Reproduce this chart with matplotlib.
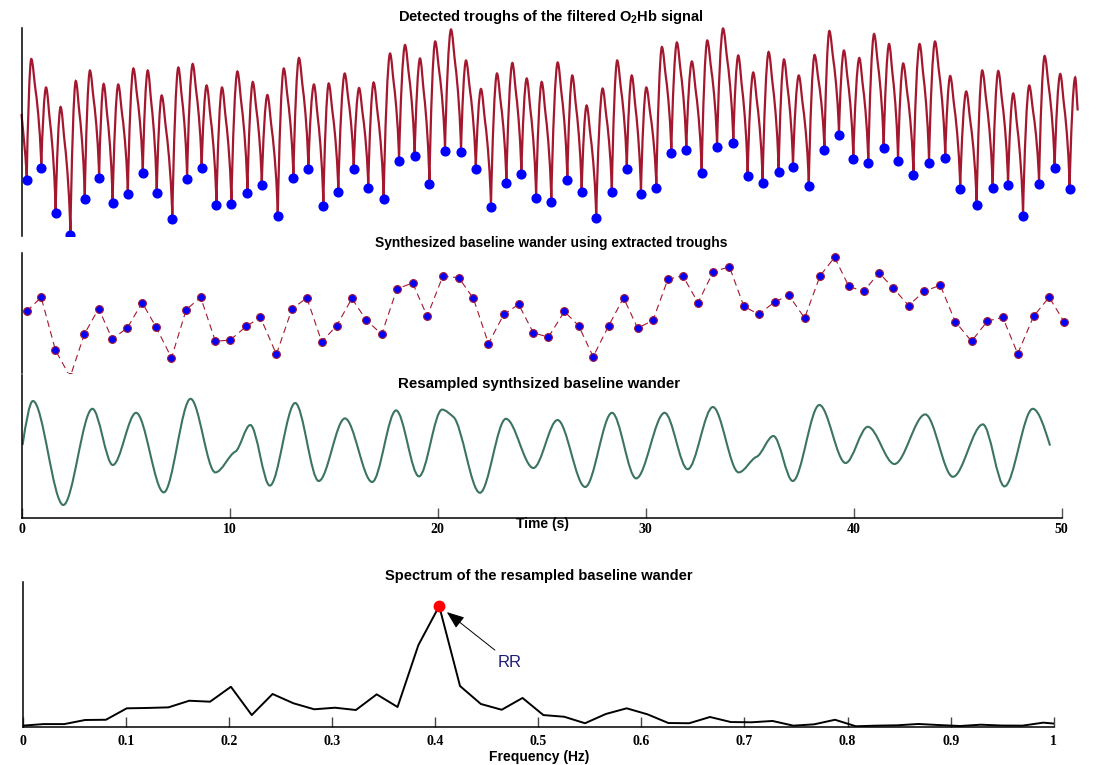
import matplotlib
matplotlib.use("Agg")
import matplotlib.pyplot as plt
from matplotlib.path import Path
from matplotlib.patches import PathPatch

W, H = 1096, 765

# -----------------------------
# DATA
# -----------------------------
# filtered O2Hb signal: beat troughs and peaks (time in s, arbitrary units)
trough_t = [0.25, 0.95, 1.64, 2.35, 3.04, 3.73, 4.38, 5.11, 5.83, 6.50,
            7.25, 7.96, 8.66, 9.37, 10.09, 10.86, 11.55, 12.32, 13.07, 13.79,
            14.51, 15.23, 15.97, 16.67, 17.41, 18.15, 18.90, 19.61, 20.36, 21.13,
            21.84, 22.57, 23.31, 24.03, 24.74, 25.47, 26.24, 26.93, 27.63, 28.38,
            29.10, 29.78, 30.52, 31.24, 31.96, 32.70, 33.44, 34.22, 34.91, 35.63,
            36.40, 37.09, 37.85, 38.60, 39.30, 39.99, 40.71, 41.45, 42.14, 42.88,
            43.63, 44.41, 45.13, 45.92, 46.69, 47.43, 48.15, 48.92, 49.67, 50.39]
trough_v = [-0.61, -0.37, -1.26, -1.71, -0.99, -0.56, -1.07, -0.89, -0.46, -0.87,
            -1.39, -0.58, -0.37, -1.11, -1.09, -0.86, -0.71, -1.33, -0.57, -0.38,
            -1.12, -0.85, -0.39, -0.76, -0.99, -0.23, -0.13, -0.69, -0.02, -0.04,
            -0.39, -1.15, -0.66, -0.49, -0.97, -1.04, -0.61, -0.85, -1.37, -0.85,
            -0.38, -0.89, -0.76, -0.07, -0.01, -0.46, 0.06, 0.14, -0.52, -0.66,
            -0.45, -0.34, -0.72, -0.01, 0.30, -0.19, -0.27, 0.04, -0.22, -0.51,
            -0.27, -0.17, -0.78, -1.11, -0.77, -0.71, -1.32, -0.69, -0.37, -0.78]
peak_t = [0.47, 1.18, 1.88, 2.61, 3.29, 3.95, 4.65, 5.38, 6.07, 6.74,
          7.54, 8.23, 8.90, 9.64, 10.38, 11.12, 11.82, 12.61, 13.34, 14.06,
          14.77, 15.54, 16.23, 16.93, 17.72, 18.44, 19.16, 19.89, 20.65, 21.37,
          22.09, 22.86, 23.60, 24.29, 25.01, 25.78, 26.48, 27.17, 27.94, 28.64,
          29.34, 30.04, 30.79, 31.51, 32.23, 32.97, 33.73, 34.46, 35.18, 35.92,
          36.66, 37.37, 38.13, 38.84, 39.54, 40.28, 40.99, 41.71, 42.39, 43.18,
          43.92, 44.65, 45.42, 46.19, 46.96, 47.68, 48.45, 49.19, 49.94, 50.66]
peak_v = [1.82, 1.25, 0.86, 1.38, 1.59, 1.32, 1.31, 1.63, 1.59, 1.09,
          1.65, 1.72, 1.29, 1.25, 1.57, 1.36, 1.10, 1.63, 1.84, 1.31,
          1.33, 1.53, 1.24, 1.35, 1.93, 2.10, 1.83, 2.17, 2.41, 1.79,
          1.22, 1.53, 1.74, 1.43, 1.36, 1.75, 1.49, 0.89, 1.23, 1.79,
          1.49, 1.25, 2.06, 2.15, 1.77, 2.19, 2.43, 1.89, 1.55, 1.96,
          1.81, 1.49, 1.90, 2.38, 1.99, 1.84, 2.32, 2.12, 1.73, 2.12,
          2.17, 1.48, 1.17, 1.59, 1.58, 1.13, 1.29, 1.88, 1.52, 1.45]
signal_start = (0.0, 0.72)
signal_end = (50.78, 0.79)

# resampled baseline wander: turning points (s, a.u.)
wander_t = [0.04, 0.54, 2.00, 3.40, 4.38, 5.50, 6.83, 8.12, 9.31, 10.27,
            10.99, 11.93, 13.15, 14.28, 15.54, 16.85, 18.00, 19.10, 20.21, 20.75,
            22.03, 23.28, 24.60, 25.76, 27.09, 28.38, 29.54, 30.91, 32.02, 33.23,
            34.47, 35.33, 36.14, 37.07, 38.35, 39.61, 40.68, 41.96, 43.44, 44.77,
            46.21, 47.25, 48.61, 49.44]
wander_v = [0.125, 1.225, -1.375, 1.03, -0.375, 0.93, -1.06, 1.28, -0.56, -0.04,
            0.625, -0.89, 1.175, -0.775, 0.79, -0.80, 0.99, -0.66, 1.01, 0.83,
            -1.07, 0.78, -0.45, 0.75, -0.925, 0.93, -0.71, 0.93, -0.48, 1.075,
            -0.56, -0.17, 0.35, -0.775, 1.125, -0.325, 0.58, -0.35, 0.89, -0.67,
            0.64, -0.91, 1.03, 0.11]

# normalised spectrum, 0.0202 Hz bins
spec_df = 0.0202
spec_v = [0.007, 0.02, 0.02, 0.054, 0.056, 0.151, 0.154, 0.159, 0.214, 0.206,
          0.330, 0.095, 0.270, 0.193, 0.143, 0.156, 0.137, 0.267, 0.162, 0.676,
          1.0, 0.336, 0.187, 0.139, 0.237, 0.095, 0.081, 0.027, 0.104, 0.151,
          0.101, 0.029, 0.027, 0.079, 0.037, 0.035, 0.046, 0.007, 0.018, 0.056,
          0.002, 0.007, 0.01, 0.021, 0.012, 0.004, 0.015, 0.008, 0.007, 0.032, 0.017]
rr_bin = 20

# -----------------------------
# STYLE
# -----------------------------
PPG_RED = "#a3182f"
WANDER_GREEN = "#3b7461"
TITLE_FONT = "Liberation Sans"
TICK_FONT = "Liberation Serif"
plt.rcParams["mathtext.fontset"] = "custom"
plt.rcParams["mathtext.bf"] = "Liberation Sans:bold"
plt.rcParams["mathtext.rm"] = "Liberation Sans:bold"
plt.rcParams["mathtext.default"] = "bf"


# -----------------------------
# CURVE HELPERS (bezier paths drawn by matplotlib)
# -----------------------------
def ppg_path():
    verts = [signal_start]
    codes = [Path.MOVETO]

    def fall(t0, v0, tn, vn, full=True):
        D = tn - t0
        A = v0 - vn
        if not full:
            verts.extend([(t0 + D / 3, v0), (tn - D / 3, vn + 0.3 * A), (tn, vn)])
            codes.extend([Path.CURVE4] * 3)
            return
        ts, vs = t0 + 0.45 * D, v0 - 0.3 * A
        ms = -0.6 * A / D
        verts.extend([(t0 + 0.15 * D, v0), (ts - 0.15 * D, vs - ms * 0.15 * D), (ts, vs)])
        d2 = tn - ts
        verts.extend([(ts + d2 / 3, vs + ms * d2 / 3),
                      (tn - 0.06 * d2, vn + 0.35 * (vs - vn)), (tn, vn)])
        codes.extend([Path.CURVE4] * 6)

    # lead-in to the first trough
    t0, v0 = signal_start
    D = trough_t[0] - t0
    verts.extend([(t0 + D / 3, v0 - 0.3 * (v0 - trough_v[0])),
                  (trough_t[0] - 0.05 * D, trough_v[0] + 0.3 * (v0 - trough_v[0])),
                  (trough_t[0], trough_v[0])])
    codes.extend([Path.CURVE4] * 3)

    for i in range(len(trough_t)):
        tt, vt, tp, vp = trough_t[i], trough_v[i], peak_t[i], peak_v[i]
        dt, h = tp - tt, vp - vt
        verts.extend([(tt + 0.2 * dt, vt + 0.45 * h), (tp - 0.35 * dt, vp), (tp, vp)])
        codes.extend([Path.CURVE4] * 3)
        if i + 1 < len(trough_t):
            fall(tp, vp, trough_t[i + 1], trough_v[i + 1])
        else:
            fall(tp, vp, signal_end[0], signal_end[1], full=False)
    return Path(verts, codes)


def smooth_path(ts, vs):
    n = len(ts)
    slopes = []
    for i in range(n):
        if i == 0:
            slopes.append(1.5 * (vs[1] - vs[0]) / (ts[1] - ts[0]))
        elif i == n - 1:
            slopes.append(1.5 * (vs[-1] - vs[-2]) / (ts[-1] - ts[-2]))
        elif (vs[i] - vs[i - 1]) * (vs[i + 1] - vs[i]) <= 0:
            slopes.append(0.0)
        else:
            slopes.append(0.35 * (vs[i + 1] - vs[i - 1]) / (ts[i + 1] - ts[i - 1]))
    verts = [(ts[0], vs[0])]
    codes = [Path.MOVETO]
    for i in range(n - 1):
        d = (ts[i + 1] - ts[i]) / 3
        verts.extend([(ts[i] + d, vs[i] + slopes[i] * d),
                      (ts[i + 1] - d, vs[i + 1] - slopes[i + 1] * d),
                      (ts[i + 1], vs[i + 1])])
        codes.extend([Path.CURVE4] * 3)
    return Path(verts, codes)


def px_axes(fig, left, top, right, bottom):
    return fig.add_axes([left / W, 1 - bottom / H, (right - left) / W, (bottom - top) / H])


def strip(ax, bottom=False):
    for side in ["top", "right"]:
        ax.spines[side].set_visible(False)
    ax.spines["bottom"].set_visible(bottom)
    ax.spines["left"].set_linewidth(1.1)
    ax.set_yticks([])
    if not bottom:
        ax.set_xticks([])
    ax.patch.set_alpha(0)


def fig_text(fig, x, y, s, **kw):
    fig.text(x / W, 1 - y / H, s, ha="center", va="center", **kw)


# -----------------------------
# FIGURE
# -----------------------------
def main():
    fig = plt.figure(figsize=(W / 100, H / 100), dpi=100)

    # panel 1: filtered signal with troughs
    ax1 = px_axes(fig, 21.5, 28.3, 1077.7, 235.7)
    ax1.add_patch(PathPatch(ppg_path(), fill=False, edgecolor=PPG_RED, lw=1.6,
                            clip_on=False))
    ax1.plot(trough_t, trough_v, "o", color="blue", ms=6.3, mec="blue", zorder=3)
    ax1.set_xlim(0, 50.78)
    ax1.set_ylim(-1.714, 2.434)
    strip(ax1)

    # panel 2: synthesized wander from troughs
    ax2 = px_axes(fig, 21.5, 253, 1072.1, 373)
    ax2.plot(trough_t, trough_v, color=PPG_RED, lw=0.8, dashes=(6, 4),
             marker="o", ms=5.6, mfc="blue", mec=PPG_RED, mew=0.8)
    ax2.set_xlim(0, 50.78)
    ax2.set_ylim(-1.644, 0.373)
    strip(ax2)

    # panel 3: resampled wander
    ax3 = px_axes(fig, 21.7, 375, 1061.7, 518)
    ax3.add_patch(PathPatch(smooth_path(wander_t, wander_v), fill=False,
                            edgecolor=WANDER_GREEN, lw=1.5))
    ax3.set_xlim(0, 50)
    ax3.set_ylim(-1.7, 1.875)
    strip(ax3, bottom=True)
    ax3.spines["bottom"].set_linewidth(1.1)
    ax3.set_xticks([0, 10, 20, 30, 40, 50], ["0", "10", "20", "30", "40", "50"],
                   fontfamily=TICK_FONT, fontweight="bold", fontsize=10)
    ax3.tick_params(axis="x", direction="in", length=7.5, width=1, color="#555555", pad=3.5)

    # panel 4: spectrum
    ax4 = px_axes(fig, 22.6, 582, 1053.8, 726.5)
    freqs = [k * spec_df for k in range(len(spec_v))]
    ax4.plot(freqs, spec_v, color="black", lw=1.4)
    ax4.plot(freqs[rr_bin], spec_v[rr_bin], "o", color="red", ms=7.5, zorder=3,
             clip_on=False)
    ax4.annotate("RR", xy=(freqs[rr_bin], spec_v[rr_bin]), xytext=(0.4727, 0.535),
                 ha="center", va="center", fontsize=12, color="#1c1c7a",
                 fontfamily="Liberation Sans",
                 arrowprops=dict(arrowstyle="-|>,head_length=0.9,head_width=0.35",
                                 color="black", lw=0.7, shrinkA=2, shrinkB=7))
    ax4.set_xlim(0, 1)
    ax4.set_ylim(0, 1.2)
    strip(ax4, bottom=True)
    ax4.spines["bottom"].set_linewidth(1.1)
    ticks = [i / 10 for i in range(11)]
    labels = ["0"] + [f"{t:.1f}" for t in ticks[1:-1]] + ["1"]
    ax4.set_xticks(ticks, labels, fontfamily=TICK_FONT, fontweight="bold", fontsize=10)
    ax4.tick_params(axis="x", direction="in", length=7.5, width=1, color="#444444", pad=6)

    # texts
    fig_text(fig, 551, 17, "Detected troughs of the filtered O$_2$Hb signal",
             family=TITLE_FONT, fontweight="bold", fontsize=10.5)
    fig_text(fig, 551, 243, "Synthesized baseline wander using extracted troughs",
             family=TITLE_FONT, fontweight="bold", fontsize=9.9)
    fig_text(fig, 539, 384, "Resampled synthsized baseline wander",
             family=TITLE_FONT, fontweight="bold", fontsize=10.8)
    fig_text(fig, 543, 524, "Time (s)", family=TITLE_FONT, fontweight="bold", fontsize=10)
    fig_text(fig, 539, 576, "Spectrum of the resampled baseline wander",
             family=TITLE_FONT, fontweight="bold", fontsize=10.5)
    fig_text(fig, 539, 757, "Frequency (Hz)", family=TITLE_FONT, fontweight="bold",
             fontsize=10)

    fig.savefig("out.png", dpi=100)
    plt.close(fig)


if __name__ == "__main__":
    main()
